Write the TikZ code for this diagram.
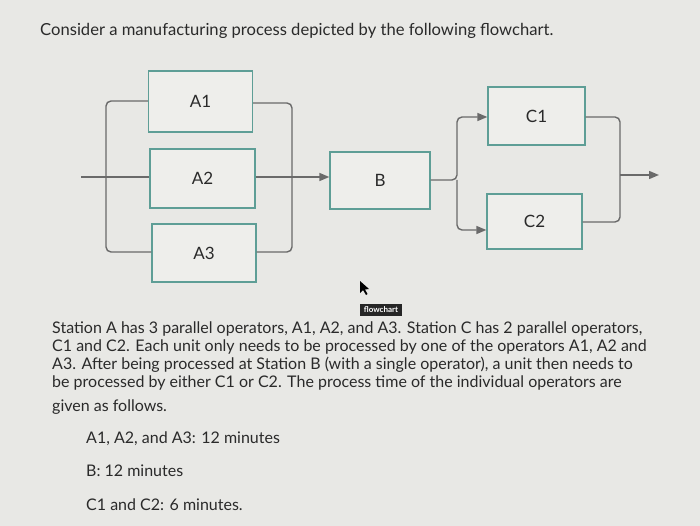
\documentclass[tikz,border=0pt]{standalone}
\usepackage{fontspec}
\setmainfont{Lato}
\usetikzlibrary{arrows.meta}
\definecolor{bg}{HTML}{E8E8E5}
\definecolor{boxf}{HTML}{EEEEEB}
\definecolor{teal}{HTML}{5E9E96}
\definecolor{ln}{HTML}{6A6A6A}
\definecolor{txt}{HTML}{2A2A2A}
\begin{document}
\begin{tikzpicture}[x=1pt,y=-1pt,
  boxn/.style={draw=teal,line width=1.3pt,fill=boxf,minimum width=#1,inner sep=0pt,font=\fontsize{17}{17}\selectfont,text=txt},
  conn/.style={draw=ln,line width=1.4pt,rounded corners=5pt},
  arr/.style={conn,-{Triangle[length=10pt,width=8pt]}},
  para/.style={anchor=base west,inner sep=0pt,font=\fontsize{16}{16}\selectfont,text=txt}]
\fill[bg] (0,0) rectangle (700,526);
\useasboundingbox (0,0) rectangle (700,526);
\node[anchor=base west,inner sep=0pt,font=\fontsize{16.6}{17}\selectfont,text=txt] (title) at (40,36) {Consider a manufacturing process depicted by the following flowchart.};
\node[boxn=104pt,minimum height=61pt] (A1) at (200.5,101.5) {A1};
\node[boxn=105pt,minimum height=59pt] (A2) at (202.5,178.5) {A2};
\node[boxn=104pt,minimum height=58pt] (A3) at (204,253) {A3};
\node[boxn=100pt,minimum height=57pt] (B) at (380,180.5) {B};
\node[boxn=97pt,minimum height=58pt] (C1) at (536.5,116) {C1};
\node[boxn=95pt,minimum height=55pt] (C2) at (534.5,221.5) {C2};
\coordinate (in) at (81,177);
\coordinate (out) at (659,175);
% left bracket
\draw[conn] (A1.west |- 0,101) -- (106,101) -- (106,252) -- (A3.west |- 0,252);
\draw[conn] (in) -- (A2.west |- in);
% right bracket
\draw[conn] (A1.east |- 0,103) -- (292,103) -- (292,252) -- (A3.east |- 0,252);
\draw[conn] (A2.east |- 0,177) -- (292,177);
\draw[arr] (292,177) -- (B.west |- 0,177);
% B to C
\draw[arr] (B.east |- 0,180) -- (457,180) -- (457,117) -- (C1.west |- 0,117);
\draw[arr] (457,180) -- (457,230) -- (C2.west |- 0,230);
% C to out
\draw[conn] (C1.east |- 0,117) -- (620,117) -- (620,222) -- (C2.east |- 0,222);
\draw[arr] (620,175) -- (out);
% cursor and tag
\fill[black] (360,281) -- (360,293) -- (363,290) -- (366,295) -- (367.5,294) -- (365,289.5) -- (369,289) -- cycle;
\node[fill=black!85,text=white,font=\fontsize{8}{8}\selectfont\bfseries,inner xsep=4pt,inner ysep=2.5pt] (tag) at (381,310) {flowchart};
\node[para] (p1) at (52,333) {Station A has 3 parallel operators, A1, A2, and A3. Station C has 2 parallel operators,};
\node[para] (p2) at (52,351) {C1 and C2. Each unit only needs to be processed by one of the operators A1, A2 and};
\node[para] (p3) at (52,369) {A3. After being processed at Station B (with a single operator), a unit then needs to};
\node[para] (p4) at (52,387) {be processed by either C1 or C2. The process time of the individual operators are};
\node[para] (p5) at (52,411) {given as follows.};
\node[para] (p6) at (86,443) {A1, A2, and A3: 12 minutes};
\node[para] (p7) at (86,476) {B: 12 minutes};
\node[para] (p8) at (86,510) {C1 and C2: 6 minutes.};
\end{tikzpicture}
\end{document}
